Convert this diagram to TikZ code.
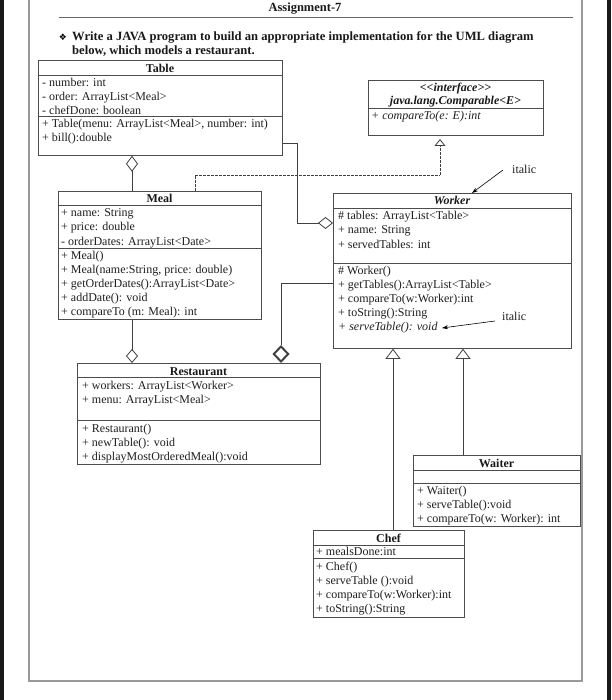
\documentclass[tikz,border=0pt]{standalone}
\usepackage{fontspec}
\setmainfont{Liberation Serif}
\newfontfamily\dejavu{DejaVu Sans}
\usetikzlibrary{arrows.meta,calc}
\tikzset{
  cls/.style={draw=black!70, line width=0.8pt, anchor=north west, inner sep=0pt},
  sepline/.style={draw=black!70, line width=0.8pt},
  txt/.style={anchor=base west, inner sep=0pt, font=\fontsize{12}{14}\selectfont, text=black!88},
  hdr/.style={anchor=base, inner sep=0pt, font=\fontsize{12}{14}\selectfont\bfseries, text=black!90},
  hdri/.style={hdr, font=\fontsize{12}{14}\selectfont\bfseries\itshape},
  conn/.style={draw=black!75, line width=0.8pt},
  realize/.style={conn, dash pattern=on 2.5pt off 1.5pt},
  note/.style={draw=black, line width=0.6pt, -{Stealth[length=6pt,width=4pt]}},
  qtext/.style={anchor=base west, inner sep=0pt, font=\fontsize{12.6}{14}\selectfont\bfseries, text=black!90}
}
\newcommand\umllines[4]{\foreach \mytxt [count=\i] in {#4} {\node[txt] (#1\i) at (#2,{#3+14*(\i-1)}) {\mytxt};}}
\begin{document}
\begin{tikzpicture}[x=1pt,y=-1pt]
\useasboundingbox (0,0) rectangle (611,700);
\fill[white] (0,0) rectangle (611,700);
\fill[black!90] (0,0) rectangle (4,700);
\fill[black!90] (607,0) rectangle (611,700);
\draw[black!40, line width=2pt] (29,0) -- (29,681) -- (582,681) -- (582,0);
% heading
\node[hdr, font=\fontsize{12.5}{14}\selectfont\bfseries] (title) at (305,11.5) {Assignment-7};
\coordinate (rl) at (59,17);
\coordinate (rr) at (573,17);
\draw[black!60, line width=0.8pt] (rl) -- (rr);
\node[inner sep=0pt, font=\dejavu\fontsize{9}{10}\selectfont] (bullet) at (63,37.5) {❖};
\node[qtext] (q1) at (72,41) {Write a JAVA program to build an appropriate implementation for the UML diagram};
\node[qtext] (q2) at (72,55) {below, which models a restaurant.};
% Table
\node[cls, minimum width=244pt, minimum height=95pt] (table) at (38,60) {};
\draw[sepline] (table.west |- 0,75) -- (table.east |- 0,75);
\draw[sepline] (table.west |- 0,116.5) -- (table.east |- 0,116.5);
\node[hdr] (tableH) at (160,72.5) {Table};
\umllines{tableA}{42}{87}{{- number: int},{- order: ArrayList<Meal>},{- chefDone: boolean}}
\umllines{tableM}{42}{128}{{+ Table(menu: ArrayList<Meal>, number: int)},{+ bill():double}}
% Interface
\node[cls, minimum width=175pt, minimum height=55pt] (iface) at (368,80) {};
\draw[sepline] (iface.west |- 0,108) -- (iface.east |- 0,108);
\node[hdri] (ifaceH1) at (455.5,92) {<\kern0pt<interface>\kern0pt>};
\node[hdri] (ifaceH2) at (455.5,104.5) {java.lang.Comparable<E>};
\node[txt, font=\fontsize{12}{14}\selectfont\itshape] (ifaceM1) at (371,120) {+ compareTo(e: E):int};
% Meal
\node[cls, minimum width=203pt, minimum height=128pt] (meal) at (58,191) {};
\draw[sepline] (meal.west |- 0,205) -- (meal.east |- 0,205);
\draw[sepline] (meal.west |- 0,248) -- (meal.east |- 0,248);
\node[hdr] (mealH) at (159.5,202.5) {Meal};
\umllines{mealA}{61}{217}{{+ name: String},{+ price: double},{- orderDates: ArrayList<Date>}}
\umllines{mealM}{61}{259}{{+ Meal()},{+ Meal(name:String, price: double)},{+ getOrderDates():ArrayList<Date>},{+ addDate(): void},{+ compareTo (m: Meal): int}}
% Worker
\node[cls, minimum width=238pt, minimum height=155pt] (worker) at (333,193) {};
\draw[sepline] (worker.west |- 0,208) -- (worker.east |- 0,208);
\draw[sepline] (worker.west |- 0,263) -- (worker.east |- 0,263);
\node[hdri] (workerH) at (452,205) {Worker};
\umllines{workerA}{338}{220}{{\# tables: ArrayList<Table>},{+ name: String},{+ servedTables: int}}
\umllines{workerM}{338}{274.5}{{\# Worker()},{+ getTables():ArrayList<Table>},{+ compareTo(w:Worker):int},{+ toString():String},{\itshape + serveTable(): void}}
% Restaurant
\node[cls, minimum width=243pt, minimum height=101pt] (rest) at (77,363) {};
\draw[sepline] (rest.west |- 0,377) -- (rest.east |- 0,377);
\draw[sepline] (rest.west |- 0,420) -- (rest.east |- 0,420);
\node[hdr] (restH) at (198.5,375) {Restaurant};
\umllines{restA}{82}{389}{{+ workers: ArrayList<Worker>},{+ menu: ArrayList<Meal>}}
\umllines{restM}{82}{432}{{+ Restaurant()},{+ newTable(): void},{+ displayMostOrderedMeal():void}}
% Waiter
\node[cls, minimum width=167pt, minimum height=71pt] (waiter) at (413,455) {};
\draw[sepline] (waiter.west |- 0,470) -- (waiter.east |- 0,470);
\draw[sepline] (waiter.west |- 0,483) -- (waiter.east |- 0,483);
\node[hdr] (waiterH) at (496.5,467) {Waiter};
\umllines{waiterM}{417}{494}{{+ Waiter()},{+ serveTable():void},{+ compareTo(w: Worker): int}}
% Chef
\node[cls, minimum width=151pt, minimum height=87pt] (chef) at (313,530) {};
\draw[sepline] (chef.west |- 0,545) -- (chef.east |- 0,545);
\draw[sepline] (chef.west |- 0,558) -- (chef.east |- 0,558);
\node[hdr] (chefH) at (388.5,542) {Chef};
\umllines{chefA}{316}{555.5}{{+ mealsDone:int}}
\umllines{chefM}{316}{570}{{+ Chef()},{+ serveTable ():void},{+ compareTo(w:Worker):int},{+ toString():String}}
% connectors
\draw[conn, -{Diamond[open,length=16pt,width=12pt]}] (meal.north -| 132,0) -- (table.south -| 132,0);
\draw[conn, -{Diamond[open,length=15pt,width=12pt]}] (table.east |- 0,143) -- (297,143) -- (297,223) -- (worker.west |- 0,223);
\coordinate (rstart) at (195,191);
\coordinate (rcorner2) at (440,175);
\coordinate (rbase) at (440,146);
\coordinate (rtip) at (440,139);
\draw[realize] (rstart) |- (rcorner2);
\draw[realize] (rcorner2) -- (rbase);
\draw[conn, -{Triangle[open,length=7pt,width=11pt]}] (rbase) -- (rtip);
\draw[conn, -{Diamond[open,length=14pt,width=12pt]}] (meal.south -| 132,0) -- (rest.north -| 132,0);
\draw[conn, -{Diamond[open,line width=2pt,length=18pt,width=17pt]}] (worker.west |- 0,283) -- (281,283) -- (rest.north -| 281,0);
\draw[conn, -{Triangle[open,length=10pt,width=15pt]}] (chef.north -| 393,0) -- (worker.south -| 393,0);
\draw[conn, -{Triangle[open,length=10pt,width=15pt]}] (waiter.north -| 463,0) -- (worker.south -| 463,0);
% notes
\node[txt] (note1) at (512,173.5) {italic};
\coordinate (n1s) at (503,170);
\coordinate (n1e) at (472,193);
\draw[note] (n1s) -- (n1e);
\node[txt] (note2) at (502,320.5) {italic};
\coordinate (n2s) at (495,321);
\coordinate (n2e) at (442,328);
\draw[note] (n2s) -- (n2e);
\end{tikzpicture}
\end{document}
